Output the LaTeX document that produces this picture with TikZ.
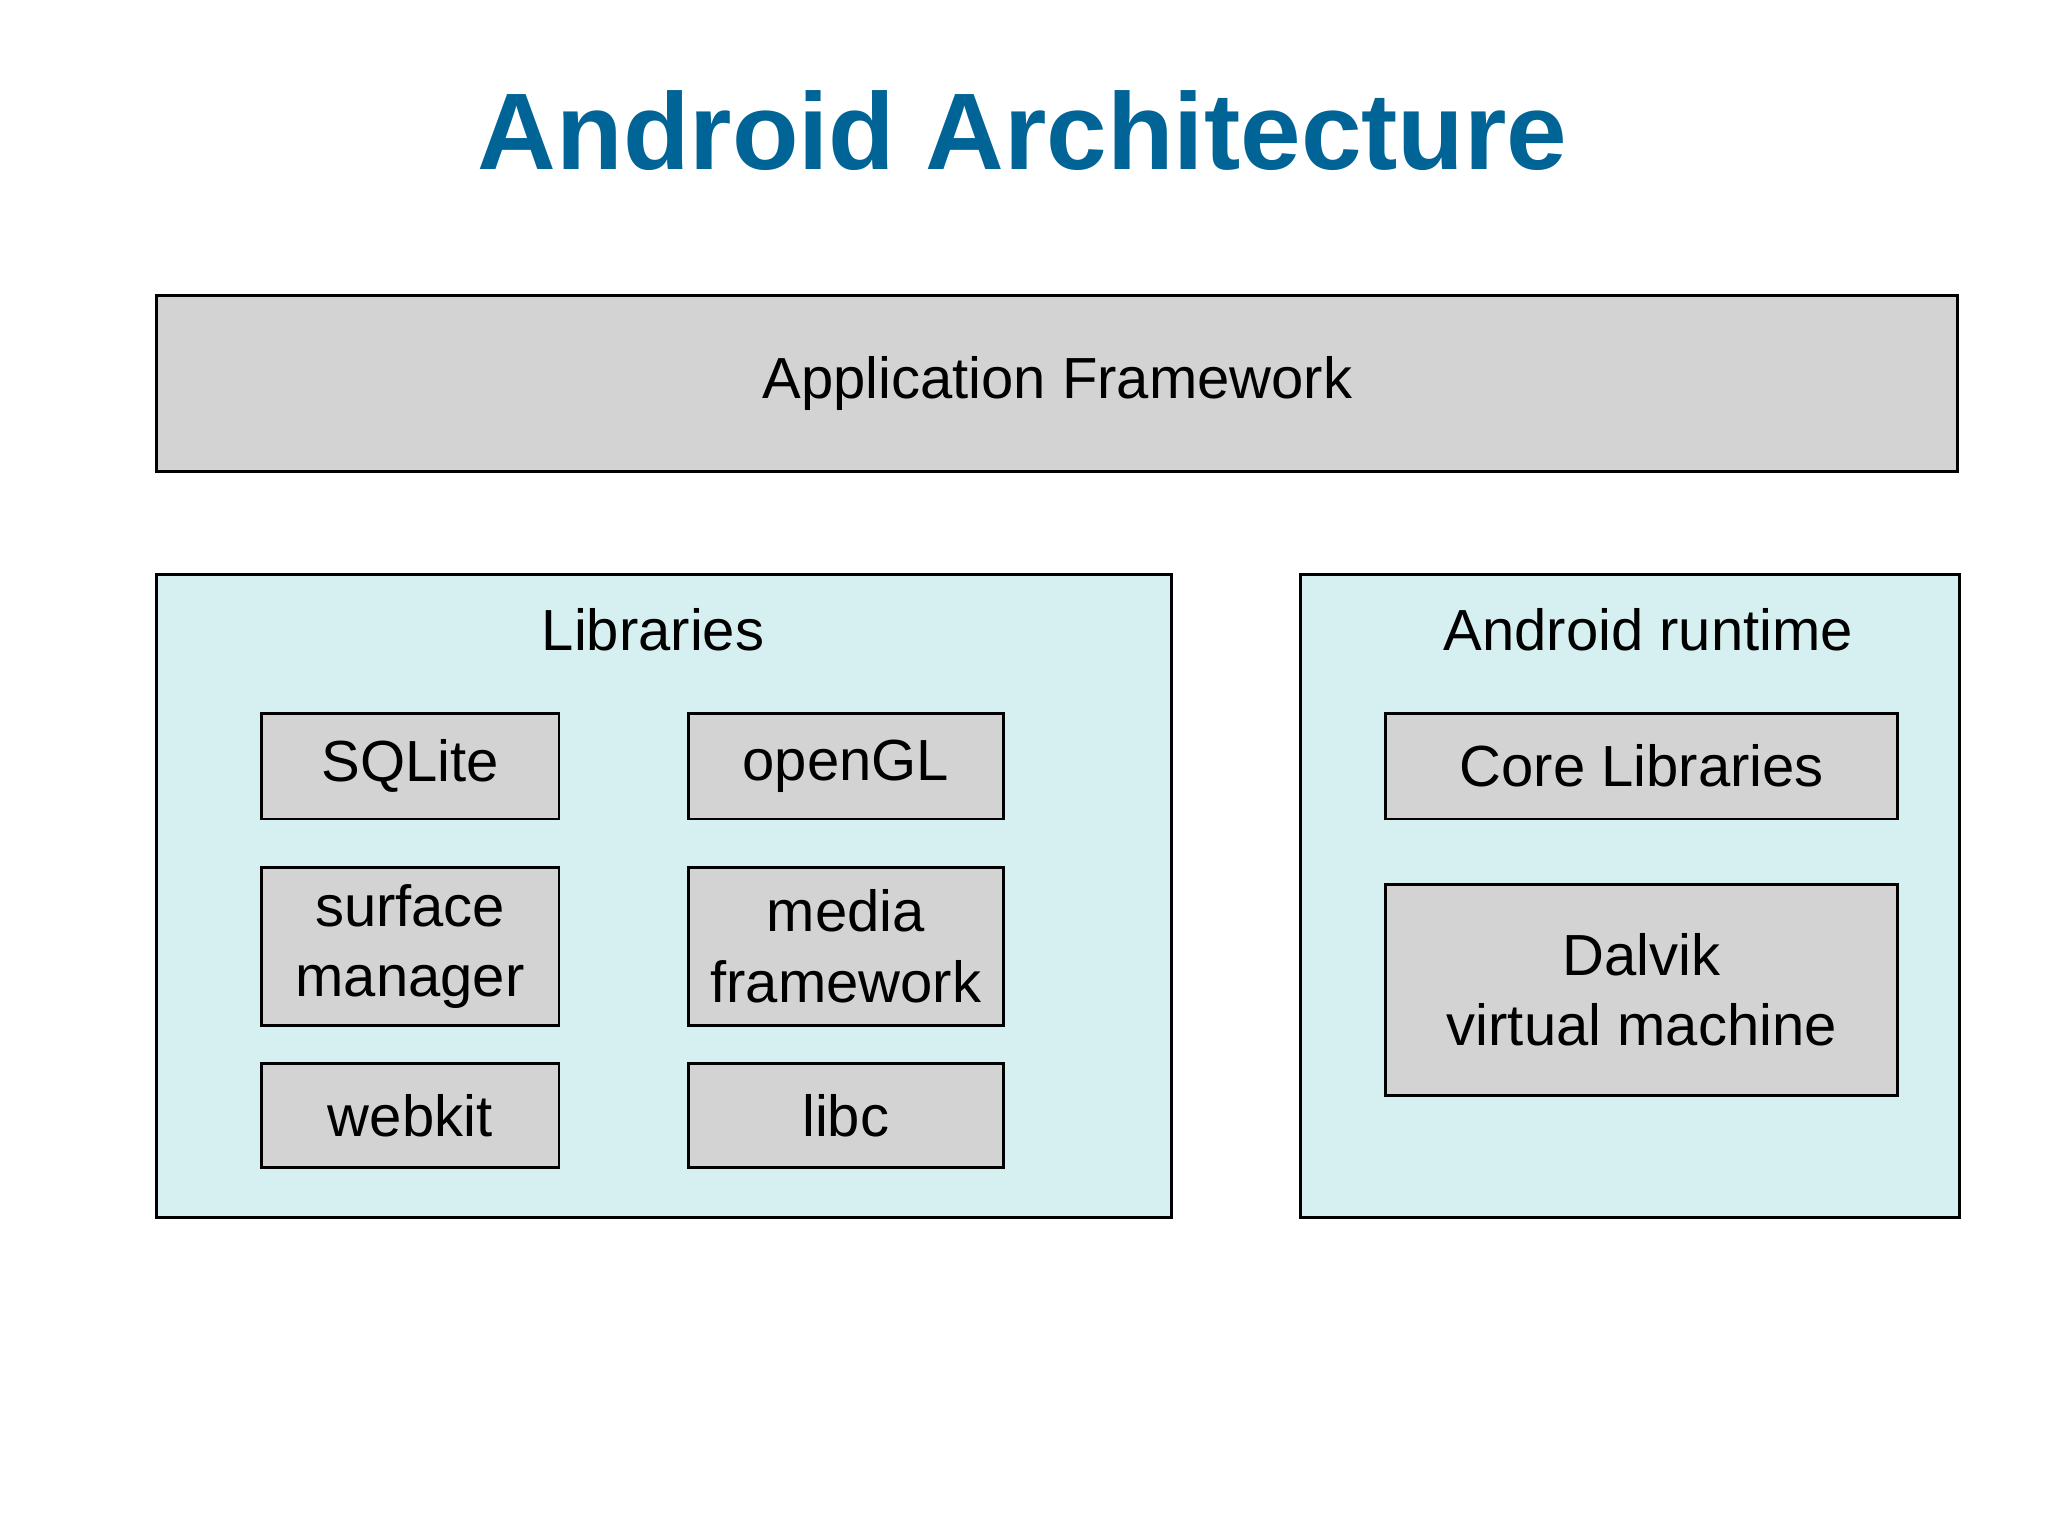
\documentclass[tikz,border=0pt]{standalone}
\usepackage{fontspec}
\setmainfont{Liberation Sans}
\definecolor{titleblue}{RGB}{0,101,150}
\definecolor{boxgray}{RGB}{211,211,211}
\definecolor{layercyan}{RGB}{214,239,241}
\tikzset{
  layer/.style={draw,thick,fill=layercyan},
  block/.style={draw,thick,fill=boxgray,align=center,inner sep=0pt,font=\fontsize{16.5}{20}\selectfont}
}
\begin{document}
\begin{tikzpicture}[x=0.01306cm,y=-0.01306cm]
      \useasboundingbox[fill=white] (0,0) rectangle (1568,1176);

      \node[font=\fontsize{31}{36}\selectfont\bfseries,text=titleblue] (title) at (783,100) {Android Architecture};

      \node[block,minimum width=1379*0.01306cm,minimum height=135*0.01306cm] (appfw) at (809.5,293.5) {Application Framework};

      % layers
      \draw[layer] (120,440) rectangle (897,932);
      \draw[layer] (996,440) rectangle (1500,932);
      \node[font=\fontsize{16.5}{20}\selectfont] (libs) at (500,482) {Libraries};
      \node[font=\fontsize{16.5}{20}\selectfont] (runtime) at (1262,482) {Android runtime};

      % libraries
      \node[block,minimum width=228*0.01306cm,minimum height=81*0.01306cm] (sqlite) at (314,586.5) {SQLite};
      \node[block,minimum width=241*0.01306cm,minimum height=81*0.01306cm] (opengl) at (647.5,586.5) {openGL};
      \node[block,minimum width=228*0.01306cm,minimum height=121*0.01306cm] (surface) at (314,724.5) {surface\\manager};
      \node[block,minimum width=241*0.01306cm,minimum height=121*0.01306cm] (media) at (647.5,724.5) {media\\framework};
      \node[block,minimum width=228*0.01306cm,minimum height=80*0.01306cm] (webkit) at (314,854) {webkit};
      \node[block,minimum width=241*0.01306cm,minimum height=80*0.01306cm] (libc) at (647.5,854) {libc};

      % runtime
      \node[block,minimum width=392*0.01306cm,minimum height=81*0.01306cm] (corelibs) at (1257,586.5) {Core Libraries};
      \node[block,minimum width=392*0.01306cm,minimum height=162*0.01306cm] (dalvik) at (1257,758) {Dalvik\\virtual machine};
\end{tikzpicture}
\end{document}
